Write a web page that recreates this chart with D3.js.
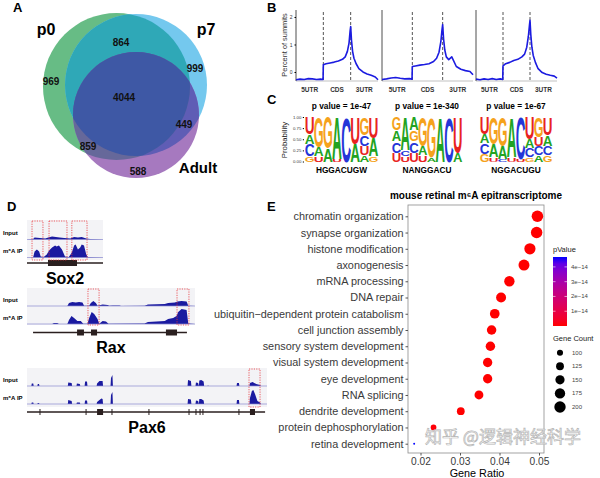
<!DOCTYPE html>
<html>
<head>
<meta charset="utf-8">
<script src="https://cdn.jsdelivr.net/npm/d3@7"></script>
<style>
body { margin: 0; background: #fff; }
text { font-family: "Liberation Sans", Arial, sans-serif; }
</style>
</head>
<body>
<svg id="fig" width="600" height="478"></svg>
<script>
// ---------- data ----------
var vennLabels = ["p0", "p7", "Adult"];
var vennRegions = ["p0", "p0p7", "p7", "all", "p7A", "p0A", "A"];
var vennCounts = [969, 864, 999, 4044, 449, 859, 588];

var metaPos = [0, 0.15, 0.3, 0.45, 0.6, 0.75, 0.9, 0.99, 1.0, 1.1, 1.25, 1.4, 1.55, 1.7, 1.8, 1.88, 1.94, 1.98, 2.0, 2.03, 2.07, 2.12, 2.2, 2.3, 2.45, 2.6, 2.75, 2.9, 3.0];
var summits1 = [-0.28, -0.26, -0.27, -0.24, -0.25, -0.27, -0.26, -0.27, 0.26, 0.3, 0.33, 0.36, 0.4, 0.46, 0.55, 0.75, 1.05, 1.5, 1.65, 1.15, 0.75, 0.5, 0.3, 0.12, 0.0, -0.07, -0.12, -0.18, -0.28];
var summits2 = [-0.27, -0.25, -0.22, -0.2, -0.23, -0.25, -0.24, -0.26, 0.2, 0.22, 0.25, 0.27, 0.3, 0.38, 0.5, 0.72, 1.1, 1.55, 1.72, 1.2, 0.8, 0.55, 0.45, 0.55, 0.2, 0.1, 0.05, 0.02, -0.1];
var summits3 = [-0.26, -0.28, -0.25, -0.27, -0.24, -0.27, -0.25, -0.27, 0.22, 0.3, 0.35, 0.42, 0.46, 0.55, 0.65, 0.9, 1.3, 1.7, 1.88, 1.35, 0.9, 0.6, 0.35, 0.12, -0.02, -0.08, -0.12, -0.15, -0.22];
var regionNames = ["5UTR", "CDS", "3UTR"];

var motifTitles = ["p value = 1e-47", "p value = 1e-340", "p value = 1e-67"];
var motifNames = ["HGGACUGW", "NANGGACU", "NGGACUGU"];
// each column listed bottom -> top
var motif1 = [
  [["G", .13], ["C", .27], ["A", .22], ["U", .38]],
  [["U", .12], ["A", .2], ["G", .68]],
  [["A", .3], ["G", .7]],
  [["U", .05], ["A", .95]],
  [["C", 1]],
  [["A", .4], ["U", .6]],
  [["A", .15], ["U", .2], ["C", .25], ["G", .4]],
  [["G", .12], ["A", .4], ["U", .48]]
];
var motif2 = [
  [["U", .2], ["C", .25], ["A", .25], ["G", .3]],
  [["U", .12], ["C", .13], ["A", .75]],
  [["U", .2], ["C", .25], ["G", .25], ["A", .3]],
  [["U", .15], ["A", .2], ["G", .65]],
  [["A", .1], ["G", .9]],
  [["A", 1]],
  [["C", 1]],
  [["A", .2], ["U", .8]]
];
var motif3 = [
  [["G", .17], ["C", .25], ["A", .2], ["U", .38]],
  [["U", .1], ["A", .3], ["G", .6]],
  [["C", .05], ["A", .3], ["G", .65]],
  [["U", .1], ["A", .9]],
  [["U", .05], ["C", .95]],
  [["G", .1], ["C", .2], ["A", .2], ["U", .5]],
  [["A", .15], ["C", .2], ["U", .2], ["G", .45]],
  [["G", .15], ["C", .2], ["A", .25], ["U", .4]]
];
var probTicks = [0, 0.25, 0.5, 0.75, 1];

// coverage tracks: [relative position 0-100, height]
var sox2Input = [[0,0],[8,0.5],[10,2],[17,1.5],[24,1],[28,2],[33,3],[38,2.5],[43,2],[49,1.5],[57,1],[62,2.5],[67,2],[72,2.5],[78,1],[83,0.5],[100,0]];
var sox2IP = [[0,0],[8,0],[10,6],[13,8],[16,6],[18,1],[22,0.5],[26,3],[29,7],[33,10],[37,12],[39,11],[42,12],[46,8],[50,1],[55,0.5],[59,5],[62,12],[64,13],[67,8],[70,10],[72,13],[75,12],[78,3],[80,0.5],[100,0]];
var raxInput = [[0,0],[24,0],[25,3],[27,4],[29,3.5],[31,4],[33,3.5],[34,0.3],[37,0.3],[38,3],[39.5,5],[41,3],[42,0.3],[45,1.5],[48,1],[49,0.2],[51,0.6],[55,0.5],[56,0],[70,0.3],[72,1.5],[77,1.8],[82,2],[84,3],[88,3.5],[89.5,4.5],[92,5],[95,4.5],[96,0.3],[100,0]];
var raxIP = [[0,0],[15,0],[16,1],[18,1],[19,0],[24,0],[25,4],[26.5,8],[28,6],[30,3],[32,3],[33.5,0.3],[36,0.3],[37,6],[38.5,12],[40,10],[42,5],[43,0.3],[45,3],[47,2.5],[48.5,0.3],[70,0.5],[72,2],[77,2.5],[82,3],[84,5],[87,6],[89,8],[90,12],[92,15],[95,14],[96,0.5],[100,0]];
var pax6Input = [[0,0],[1.8,0],[2,2.5],[2.6,2.5],[2.8,0],[4.3,0],[4.5,2],[5,2],[5.2,0],[17,0],[17.2,3.5],[18.6,3],[18.8,0],[20.6,0],[20.8,2.5],[22,2],[22.2,0],[24,0],[24.2,4.5],[25,4.5],[25.2,0],[29,0],[29.2,2.5],[30.2,5],[31.5,5],[31.7,0],[34.8,0],[35,8],[35.6,11],[35.8,0],[66.9,0],[67.1,6],[68.3,5],[68.5,0],[70.2,0],[70.4,3.5],[71.3,3],[71.6,0],[71.8,5.5],[72.6,6],[73.6,4.5],[73.8,0],[75.2,0],[75.4,0.5],[75.8,0],[87.3,0],[87.5,3],[88.3,3],[88.5,0],[92.7,0],[92.9,3],[94,4],[95.5,2],[97.1,1],[97.5,0],[100,0]];
var pax6IP = [[0,0],[1.8,0],[2,1.5],[2.6,1.5],[2.8,0],[4.3,0],[4.5,1],[5,1],[5.2,0],[17,0],[17.2,4],[18.6,3],[18.8,0],[20.6,0],[20.8,1.5],[22,1.5],[22.2,0],[24,0],[24.2,3.5],[25,3.5],[25.2,0],[29,0],[29.2,2],[30.2,4],[31,5.5],[31.5,5],[31.7,0],[34.8,0],[35,9],[35.6,12],[35.8,0],[66.9,0],[67.1,5],[68.3,4.5],[68.5,0],[70.2,0],[70.4,3.5],[71.3,3],[71.6,0],[71.8,5],[72.6,5],[73.6,3.5],[73.8,0],[87.3,0],[87.5,4],[88.3,4],[88.5,0],[92.7,0],[92.9,6],[93.7,13],[94.3,14],[95,10],[96,3],[97.1,1.5],[97.5,0],[100,0]];
var sox2Exons = [[27.6, 65.8]];
var raxExons = [[29.8, 33.9], [38.1, 41.7], [82.7, 89.3]];
var pax6Exons = [[5.2, 5.6], [24.4, 24.8], [29.2, 31.7], [35.2, 35.6], [50.6, 51], [67.3, 67.7], [70.2, 70.6], [71.9, 72.3], [73.1, 73.5], [88.1, 88.5], [92.9, 95]];
var sox2Boxes = [[6.6, 21], [29, 52.6], [59, 79]];
var raxBoxes = [[36.3, 42.9], [89.3, 96.4]];
var pax6Boxes = [[92.5, 97.1]];

var goTerms = ["chromatin organization", "synapse organization", "histone modification", "axonogenesis", "mRNA processing", "DNA repair", "ubiquitin\u2212dependent protein catabolism", "cell junction assembly", "sensory system development", "visual system development", "eye development", "RNA splicing", "dendrite development", "protein dephosphorylation", "retina development"];
var geneRatio = [0.0496, 0.0494, 0.0477, 0.0462, 0.0425, 0.0404, 0.0388, 0.038, 0.0377, 0.037, 0.037, 0.0348, 0.0302, 0.0233, 0.0184];
var geneCount = [204, 203, 196, 190, 175, 166, 160, 156, 155, 152, 152, 143, 124, 96, 76];
var pValue = [2e-40, 5e-38, 1e-35, 3e-33, 2e-30, 4e-28, 1e-26, 5e-25, 2e-24, 8e-23, 1e-22, 3e-20, 2e-18, 6e-16, 4.67e-14];
var ratioTicks = [0.02, 0.03, 0.04, 0.05];
var pTicks = [1e-14, 2e-14, 3e-14, 4e-14];
var countBreaks = [100, 125, 150, 175, 200];

// ---------- drawing ----------
var svg = d3.select("#fig");
svg.append("rect").attr("width", 600).attr("height", 478).attr("fill", "#fff");

function panelLetter(t, x, y) {
  svg.append("text").attr("x", x).attr("y", y).text(t)
    .attr("font-size", 13).attr("font-weight", "bold");
}
panelLetter("A", 13, 12);
panelLetter("B", 267, 12);
panelLetter("C", 267, 104);
panelLetter("D", 7, 211);
panelLetter("E", 267, 211);

// fit a text to a given width by changing its font size
function fitWidth(sel, w) {
  var fs = +sel.attr("font-size");
  var len = sel.node().getComputedTextLength();
  sel.attr("font-size", fs * w / len);
}

// ----- A: venn -----
var circ = { p0: [116.5, 86.5, 73.5], p7: [136, 85, 71], A: [136, 115, 63] };
var defs = svg.append("defs");
Object.keys(circ).forEach(function(k) {
  defs.append("clipPath").attr("id", "cp" + k).append("circle")
    .attr("cx", circ[k][0]).attr("cy", circ[k][1]).attr("r", circ[k][2]);
});
function vcircle(g, k, fill) {
  return g.append("circle").attr("cx", circ[k][0]).attr("cy", circ[k][1]).attr("r", circ[k][2]).attr("fill", fill);
}
var venn = svg.append("g");
vcircle(venn, "p0", "#67bc85");
vcircle(venn, "p7", "#74c8ee");
vcircle(venn, "A", "#a679bf");
vcircle(venn.append("g").attr("clip-path", "url(#cpp0)"), "p7", "#2fa8b7");
vcircle(venn.append("g").attr("clip-path", "url(#cpp7)"), "A", "#5f5db5");
vcircle(venn.append("g").attr("clip-path", "url(#cpp0)"), "A", "#66689a");
vcircle(venn.append("g").attr("clip-path", "url(#cpp0)").append("g").attr("clip-path", "url(#cpp7)"), "A", "#3e58a5");

var vennNumPos = [[51, 81], [121, 42], [195, 68], [124, 97], [184, 124], [88, 146], [138, 171]];
vennCounts.forEach(function(c, i) {
  venn.append("text").attr("x", vennNumPos[i][0]).attr("y", vennNumPos[i][1] + 3.6)
    .attr("text-anchor", "middle").attr("font-size", 10).attr("font-weight", "bold")
    .attr("fill", "#111").text(c);
});
var vennLabPos = [[46, 35, 16], [206, 35, 16], [198, 173, 15]];
vennLabels.forEach(function(l, i) {
  venn.append("text").attr("x", vennLabPos[i][0]).attr("y", vennLabPos[i][1])
    .attr("text-anchor", "middle").attr("font-size", vennLabPos[i][2]).attr("font-weight", "bold").text(l);
});

// ----- B: metagene -----
var yMeta = d3.scaleLinear().domain([-0.3, 2.25]).range([80.25, 10.1]);
var metaPlots = [[296, 378, summits1], [382, 473, summits2], [476, 557, summits3]];
metaPlots.forEach(function(p, i) {
  var xm = d3.scaleLinear().domain([0, 3]).range([p[0], p[1]]);
  var g = svg.append("g");
  g.append("line").attr("x1", p[0]).attr("x2", p[1]).attr("y1", 81).attr("y2", 81)
    .attr("stroke", "#999").attr("stroke-width", 0.6);
  g.append("line").attr("x1", p[0]).attr("x2", p[0]).attr("y1", 10).attr("y2", 81)
    .attr("stroke", "#222").attr("stroke-width", 0.8);
  [1, 2].forEach(function(b) {
    g.append("line").attr("x1", xm(b)).attr("x2", xm(b)).attr("y1", 12).attr("y2", 81)
      .attr("stroke", "#555").attr("stroke-width", 1).attr("stroke-dasharray", "3,2");
  });
  var pts = metaPos.map(function(m, j) { return [m, p[2][j]]; });
  g.append("path").datum(pts)
    .attr("d", d3.line().x(function(d) { return xm(d[0]); }).y(function(d) { return yMeta(d[1]); }))
    .attr("fill", "none").attr("stroke", "#1b1be0").attr("stroke-width", 1.6).attr("stroke-linejoin", "round");
  regionNames.forEach(function(r, j) {
    g.append("text").attr("x", xm(j + 0.5)).attr("y", 91.5).attr("text-anchor", "middle")
      .attr("font-size", 6.5).attr("font-weight", "bold").attr("fill", "#333").text(r);
  });
  if (i === 0) {
    var ax = g.append("g").attr("transform", "translate(" + p[0] + ",0)")
      .call(d3.axisLeft(yMeta).tickValues([0, 1, 2]).tickSize(1.5).tickPadding(2).tickFormat(d3.format("d")));
    ax.select(".domain").remove();
    ax.selectAll("text").attr("font-size", 5).attr("font-family", "Liberation Sans, Arial, sans-serif").attr("fill", "#333");
    g.append("text").attr("transform", "translate(287,45) rotate(-90)").attr("text-anchor", "middle")
      .attr("font-size", 7.4).attr("fill", "#333").text("Percent of summits");
  }
});

// ----- C: motif logos -----
var baseColor = { A: "#22a322", C: "#2535d8", G: "#f5a21c", U: "#e8231f" };
var yProb = d3.scaleLinear().domain([0, 1]).range([161.5, 117]);
var logos = [[305, 378, motif1], [392, 462, motif2], [480, 552, motif3]];
logos.forEach(function(L, i) {
  var xb = d3.scaleBand().domain(d3.range(8)).range([L[0], L[1]]);
  var g = svg.append("g");
  var cx = (L[0] + L[1]) / 2;
  g.append("text").attr("x", cx).attr("y", 109).attr("text-anchor", "middle")
    .attr("font-size", 8.3).attr("font-weight", "bold").text(motifTitles[i]);
  g.append("text").attr("x", cx).attr("y", 172.5).attr("text-anchor", "middle")
    .attr("font-size", 8.3).attr("font-weight", "bold").text(motifNames[i]);
  L[2].forEach(function(col, j) {
    var cum = 0;
    col.forEach(function(b) {
      var y0 = yProb(cum), y1 = yProb(cum + b[1]);
      cum += b[1];
      var t = g.append("text").attr("x", 0).attr("y", 0).attr("font-size", 100)
        .attr("font-weight", "bold").attr("fill", baseColor[b[0]]).text(b[0]);
      var w = t.node().getComputedTextLength();
      var sx = xb.bandwidth() * 1.08 / w, sy = (y0 - y1) / 71.6;
      t.attr("transform", "translate(" + (xb(j) - xb.bandwidth() * 0.04) + "," + y0 + ") scale(" + sx + "," + sy + ")");
    });
  });
  if (i === 0) {
    var ax = g.append("g").attr("transform", "translate(" + (L[0] - 1) + ",0)")
      .call(d3.axisLeft(yProb).tickValues(probTicks).tickSize(1.2).tickPadding(1.5).tickFormat(d3.format(".2f")));
    ax.select(".domain").remove();
    ax.selectAll("text").attr("font-size", 4.3).attr("font-family", "Liberation Sans, Arial, sans-serif").attr("fill", "#333");
    g.append("text").attr("transform", "translate(287,140) rotate(-90)").attr("text-anchor", "middle")
      .attr("font-size", 7.8).attr("fill", "#222").text("Probability");
  }
});

// ----- D: coverage tracks -----
var genes = [
  { name: "Sox2", x0: 27, x1: 103, top: 220, bot: 260, inB: 239.5, ipB: 257.5, gy: 263, ly: 284, lx: 65,
    inp: sox2Input, ip: sox2IP, exons: sox2Exons, boxes: sox2Boxes, span: [0, 100], exonH: 6 },
  { name: "Rax", x0: 27, x1: 195, top: 288, bot: 325, inB: 306, ipB: 324, gy: 332.5, ly: 353, lx: 111,
    inp: raxInput, ip: raxIP, exons: raxExons, boxes: raxBoxes, span: [3.6, 95.2], exonH: 6 },
  { name: "Pax6", x0: 27, x1: 267, top: 368, bot: 407, inB: 386, ipB: 404, gy: 412, ly: 433, lx: 147,
    inp: pax6Input, ip: pax6IP, exons: pax6Exons, boxes: pax6Boxes, span: [0, 99.2], exonH: 6 }
];
genes.forEach(function(G) {
  var g = svg.append("g");
  var xg = d3.scaleLinear().domain([0, 100]).range([G.x0, G.x1]);
  g.append("rect").attr("x", G.x0).attr("y", G.top).attr("width", G.x1 - G.x0).attr("height", G.bot - G.top)
    .attr("fill", "#f3f3f6");
  [[G.inp, G.inB, "Input"], [G.ip, G.ipB, "m\u2076A IP"]].forEach(function(tr) {
    var yt = d3.scaleLinear().domain([0, 16]).range([tr[1], tr[1] - 16]);
    g.append("path").datum(tr[0])
      .attr("d", d3.area().x(function(d) { return xg(d[0]); }).y0(yt(0)).y1(function(d) { return yt(d[1]); }))
      .attr("fill", "#1a1aa0");
    g.append("line").attr("x1", G.x0).attr("x2", G.x1).attr("y1", tr[1]).attr("y2", tr[1])
      .attr("stroke", "#8a8ad0").attr("stroke-width", 0.7);
    g.append("text").attr("x", 3).attr("y", tr[1] - 4.5).attr("font-size", 6).attr("font-weight", "bold").text(tr[2]);
  });
  g.append("line").attr("x1", xg(G.span[0])).attr("x2", xg(G.span[1])).attr("y1", G.gy).attr("y2", G.gy)
    .attr("stroke", "#2a1f1f").attr("stroke-width", 1.6);
  G.exons.forEach(function(e) {
    g.append("rect").attr("x", xg(e[0])).attr("y", G.gy - G.exonH / 2)
      .attr("width", Math.max(1, xg(e[1]) - xg(e[0]))).attr("height", G.exonH).attr("fill", "#2a1f1f");
  });
  G.boxes.forEach(function(b) {
    g.append("rect").attr("x", xg(b[0])).attr("y", G.top + 1).attr("width", xg(b[1]) - xg(b[0]))
      .attr("height", G.bot - G.top - 1).attr("fill", "none").attr("stroke", "#e8333a")
      .attr("stroke-width", 0.8).attr("stroke-dasharray", "1.2,1.2");
  });
  g.append("text").attr("x", G.lx).attr("y", G.ly).attr("text-anchor", "middle")
    .attr("font-size", 16).attr("font-weight", "bold").text(G.name);
});

// ----- E: GO dot plot -----
var eL = 408, eR = 544, eT = 205, eB = 453;
var xr = d3.scaleLinear().domain([0.02, 0.05]).range([420.5, 539]);
var yt = d3.scalePoint().domain(goTerms).range([216.3, 443.7]);
var sizeT = d3.scaleLinear().domain([d3.min(geneCount), d3.max(geneCount)]).range([0, 1]);
var rad = function(c) { return 0.96 * (1 + 5 * Math.sqrt(Math.max(0, sizeT(c)))); };
var col = d3.scaleLinear().domain([0, 4.67e-14]).range(["#ff0000", "#0000ff"]).interpolate(d3.interpolateLab);

var eTitle = svg.append("text").attr("x", 476).attr("y", 199).attr("text-anchor", "middle")
  .attr("font-size", 8.6).attr("font-weight", "bold").text("mouse retinal m\u2076A epitranscriptome");
fitWidth(eTitle, 172);

svg.append("rect").attr("x", eL).attr("y", eT).attr("width", eR - eL).attr("height", eB - eT)
  .attr("fill", "#fff").attr("stroke", "#8c8c8c").attr("stroke-width", 0.8);

var yAx = svg.append("g").attr("transform", "translate(" + eL + ",0)")
  .call(d3.axisLeft(yt).tickSize(2.5).tickPadding(2));
yAx.select(".domain").remove();
yAx.selectAll("line").attr("stroke", "#555");
yAx.selectAll("text").attr("font-size", 10.4).attr("fill", "#3a3a3a").attr("font-family", "Liberation Sans, Arial, sans-serif");
fitWidth(yAx.selectAll("text").filter(function(d) { return d === goTerms[0]; }), 110);
var fsY = yAx.selectAll("text").filter(function(d) { return d === goTerms[0]; }).attr("font-size");
yAx.selectAll("text").attr("font-size", fsY);

var xAx = svg.append("g").attr("transform", "translate(0," + eB + ")")
  .call(d3.axisBottom(xr).tickValues(ratioTicks).tickSize(2.5).tickPadding(2).tickFormat(d3.format(".2f")));
xAx.select(".domain").remove();
xAx.selectAll("line").attr("stroke", "#555");
xAx.selectAll("text").attr("font-size", 10.2).attr("fill", "#3a3a3a").attr("font-family", "Liberation Sans, Arial, sans-serif");
svg.append("text").attr("x", 477).attr("y", 477).attr("text-anchor", "middle").attr("font-size", 10.8).text("Gene Ratio");

svg.append("g").selectAll("circle").data(goTerms).enter().append("circle")
  .attr("cx", function(d, i) { return xr(geneRatio[i]); })
  .attr("cy", function(d) { return yt(d); })
  .attr("r", function(d, i) { return rad(geneCount[i]); })
  .attr("fill", function(d, i) { return col(pValue[i]); });

// colour legend
var yc = d3.scaleLinear().domain([0, 4.67e-14]).range([326, 257]);
svg.append("text").attr("x", 553).attr("y", 252).attr("font-size", 7.5).attr("fill", "#222").text("pValue");
var grad = defs.append("linearGradient").attr("id", "pgrad").attr("x1", 0).attr("x2", 0).attr("y1", 1).attr("y2", 0);
d3.range(0, 1.01, 0.1).forEach(function(t) {
  grad.append("stop").attr("offset", t).attr("stop-color", col(t * 4.67e-14));
});
svg.append("rect").attr("x", 553).attr("y", yc(4.67e-14)).attr("width", 14)
  .attr("height", yc(0) - yc(4.67e-14)).attr("fill", "url(#pgrad)");
pTicks.forEach(function(p) {
  svg.append("line").attr("x1", 553).attr("x2", 555.5).attr("y1", yc(p)).attr("y2", yc(p)).attr("stroke", "#fff").attr("stroke-width", 0.6);
  svg.append("line").attr("x1", 564.5).attr("x2", 567).attr("y1", yc(p)).attr("y2", yc(p)).attr("stroke", "#fff").attr("stroke-width", 0.6);
  svg.append("text").attr("x", 571).attr("y", yc(p) + 2).attr("font-size", 6).attr("fill", "#444")
    .text(d3.format(".0e")(p).replace("-", "\u2212"));
});

// size legend
svg.append("text").attr("x", 553).attr("y", 341).attr("font-size", 7.5).attr("fill", "#222").text("Gene Count");
var ySize = d3.scalePoint().domain(countBreaks).range([352.7, 407]);
countBreaks.forEach(function(c) {
  svg.append("circle").attr("cx", 560).attr("cy", ySize(c)).attr("r", rad(c)).attr("fill", "#000");
  svg.append("text").attr("x", 572).attr("y", ySize(c) + 2).attr("font-size", 6).attr("fill", "#444").text(c);
});

// watermark
svg.append("text").attr("x", 503).attr("y", 443).attr("text-anchor", "middle")
  .attr("font-size", 17)
  .attr("fill", "rgba(255,255,255,0.85)").attr("stroke", "#b5b5b5").attr("stroke-width", 0.7)
  .style("font-family", "'Noto Sans CJK SC'").text("\u77e5\u4e4e @\u903b\u8f91\u795e\u7ecf\u79d1\u5b66");
</script>
</body>
</html>
